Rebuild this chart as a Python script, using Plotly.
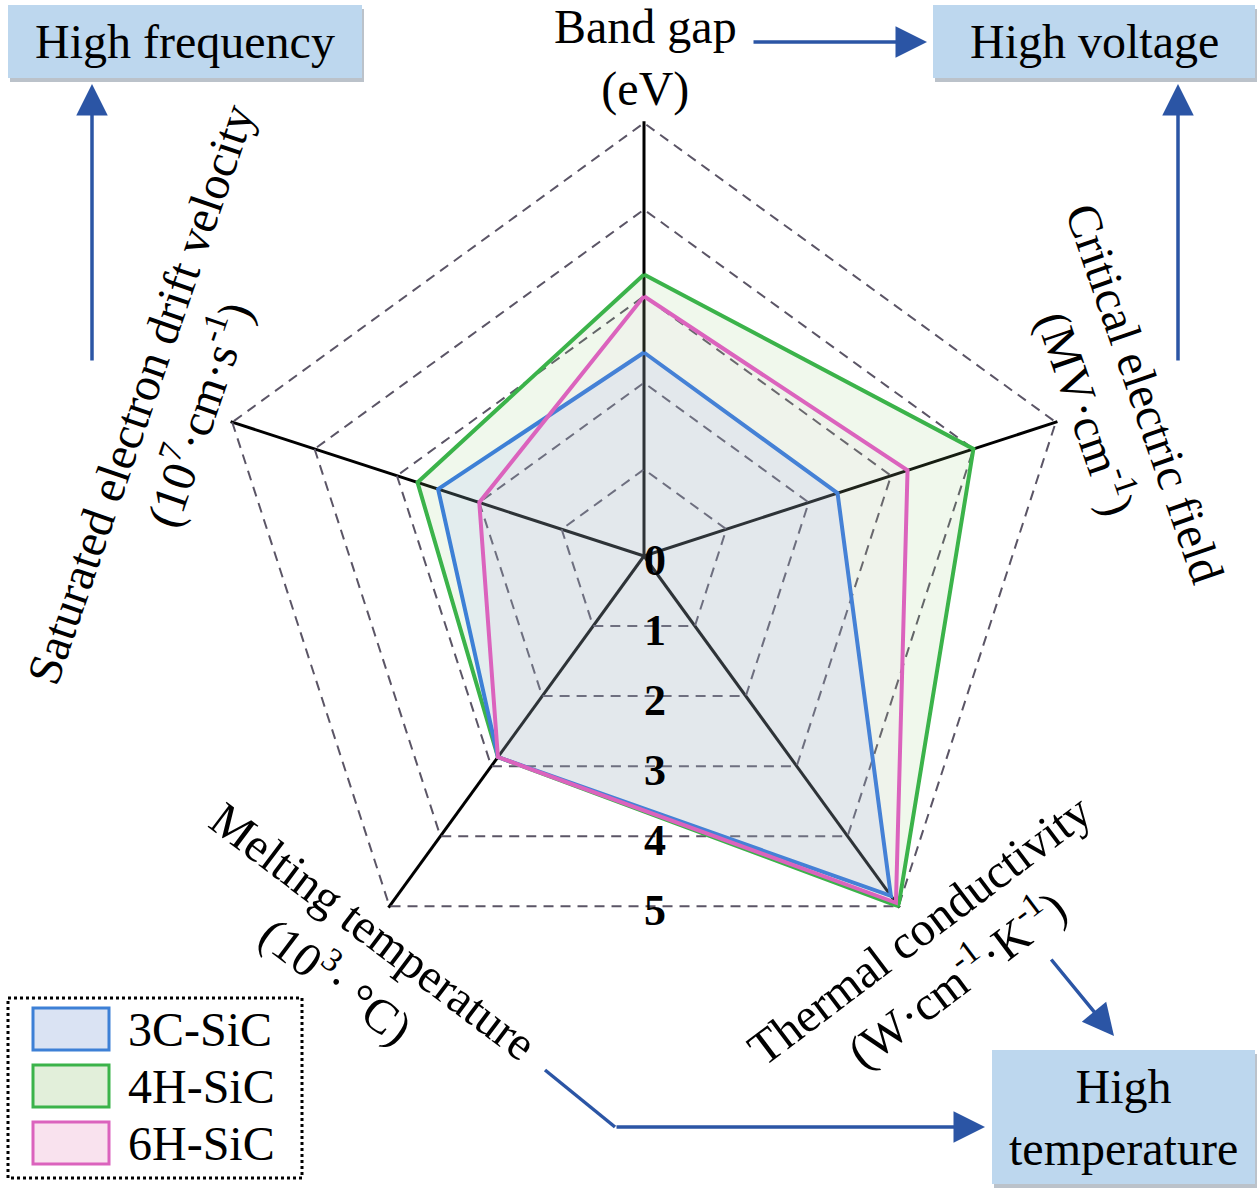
import math
import plotly.graph_objects as go

# radar axes, clockwise from the top
axes = ['Band gap', 'Critical electric field', 'Thermal conductivity',
        'Melting temperature', 'Saturated electron drift velocity']
sic_3c = [2.35, 2.35, 4.85, 2.87, 2.50]
sic_4h = [3.25, 4.00, 5.00, 2.87, 2.75]
sic_6h = [3.00, 3.20, 4.95, 2.87, 2.00]
ticks = [0, 1, 2, 3, 4, 5]

names = ['3C-SiC', '4H-SiC', '6H-SiC']
values = [sic_3c, sic_4h, sic_6h]
line_colors = ['#3d80d6', '#3bb34a', '#db63bd']
fill_colors = ['rgba(140,160,255,0.13)', 'rgba(150,205,120,0.14)', 'rgba(230,150,210,0.05)']
swatch_colors = ['#dae3f3', '#e2efda', '#f9e2ee']

axis_titles = ['Band gap<br>(eV)',
               'Critical electric field<br>(MV·cm<sup>-1</sup>)',
               'Thermal conductivity<br>(W·cm<sup>-1</sup>·K<sup>-1</sup>)',
               'Melting temperature<br>(10<sup>3</sup>· °C)',
               'Saturated electron drift velocity<br>(10<sup>7</sup>·cm·s<sup>-1</sup>)']
box_texts = ['High frequency', 'High voltage', 'High<br>temperature']

W, H = 1258, 1190
FONT = 'Liberation Serif'
ARROW = '#2b55a5'
BOX = '#bdd7ee'


def px(x):
    return x / W


def py(y):
    return 1 - y / H


# polar area: centre (644, 556), radius 434.7 px for r = 5.02
cx, cy, rad = 644, 556, 434.7
dom = dict(x=[px(cx - rad), px(cx + rad)], y=[py(cy + rad), py(cy - rad)])

fig = go.Figure()

# draw 4H first, then 3C, then 6H on top
for i in [1, 0, 2]:
    v = values[i]
    fig.add_trace(go.Scatterpolar(
        r=v + v[:1], theta=axes + axes[:1], mode='lines', fill='toself',
        fillcolor=fill_colors[i], line=dict(color=line_colors[i], width=4),
        name=names[i], showlegend=False, subplot='polar'))

# radial tick labels sit just under the bottom edge of each pentagon
label_drop = 0.09
fig.add_trace(go.Scatterpolar(
    r=[t * math.cos(math.radians(36)) + label_drop for t in ticks], theta=[180] * len(ticks),
    mode='text', text=[str(t) for t in ticks], textposition='middle right',
    textfont=dict(family=FONT, size=44, color='black', weight='bold'),
    showlegend=False, hoverinfo='skip', subplot='polar2'))

fig.update_layout(
    polar=dict(
        domain=dom, bgcolor='rgba(0,0,0,0)', gridshape='linear',
        radialaxis=dict(range=[0, 5.02], tickvals=ticks[1:], showticklabels=False,
                        showline=False, ticks='', gridcolor='#5b5566',
                        griddash='10px,7px', gridwidth=2),
        angularaxis=dict(direction='clockwise', rotation=90, showticklabels=False,
                         ticks='', showline=False, gridcolor='black', gridwidth=2.5),
    ),
    polar2=dict(
        domain=dom, bgcolor='rgba(0,0,0,0)',
        radialaxis=dict(range=[0, 5.02], visible=False),
        angularaxis=dict(direction='clockwise', rotation=90, visible=False),
    ),
)

# axis titles
title_pos = [(645, 58, 0), (1115, 403, 71), (938, 955, -37), (354, 956, 37), (170, 405, -71)]
for txt, (x, y, ang) in zip(axis_titles, title_pos):
    fig.add_annotation(x=px(x), y=py(y), xref='paper', yref='paper', text=txt,
                       textangle=ang, showarrow=False, xanchor='center', yanchor='middle',
                       font=dict(family=FONT, size=48, color='black'))

# blue boxes with a soft shadow
box_pos = [(8, 5, 362, 78), (933, 5, 1255, 78), (992, 1050, 1255, 1184)]
for txt, (x0, y0, x1, y1) in zip(box_texts, box_pos):
    fig.add_shape(type='rect', xref='paper', yref='paper',
                  x0=px(x0 + 2), x1=px(x1 + 2), y0=py(y0 + 4), y1=py(y1 + 4),
                  fillcolor='#9ea8b3', line_width=0, opacity=0.7)
    fig.add_shape(type='rect', xref='paper', yref='paper',
                  x0=px(x0), x1=px(x1), y0=py(y0), y1=py(y1),
                  fillcolor=BOX, line_width=0)
    fig.add_annotation(x=px((x0 + x1) / 2), y=py((y0 + y1) / 2), xref='paper', yref='paper',
                       text=txt, showarrow=False, xanchor='center', yanchor='middle',
                       font=dict(family=FONT, size=48, color='black'))

# arrows: (tail x, tail y, head x, head y)
arrows = [(752, 42, 927, 42), (1178, 362, 1178, 84), (92, 362, 92, 84),
          (1050, 958, 1114, 1036), (615, 1127, 985, 1127)]
for tx, ty, hx, hy in arrows:
    fig.add_annotation(x=px(hx), y=py(hy), xref='paper', yref='paper', text='',
                       showarrow=True, ax=tx - hx, ay=ty - hy, arrowhead=2,
                       arrowsize=1.8, arrowwidth=3.5, arrowcolor=ARROW, standoff=0)
fig.add_shape(type='line', xref='paper', yref='paper',
              x0=px(545), y0=py(1070), x1=px(615), y1=py(1127),
              line=dict(color=ARROW, width=3.5))

# legend box
fig.add_shape(type='rect', xref='paper', yref='paper',
              x0=px(8), x1=px(302), y0=py(998), y1=py(1178),
              line=dict(color='black', width=3, dash='dot'))
for k, name in enumerate(names):
    yc = 1029 + 57 * k
    fig.add_shape(type='rect', xref='paper', yref='paper',
                  x0=px(33), x1=px(109), y0=py(yc - 21), y1=py(yc + 21),
                  fillcolor=swatch_colors[k], line=dict(color=line_colors[k], width=3))
    fig.add_annotation(x=px(126), y=py(yc), xref='paper', yref='paper', text=name,
                       xanchor='left', yanchor='middle', showarrow=False,
                       font=dict(family=FONT, size=48, color='black'))

fig.update_layout(template='none', width=W, height=H,
                  margin=dict(l=0, r=0, t=0, b=0),
                  paper_bgcolor='white', plot_bgcolor='white')

fig.write_html('out.html', config={'displayModeBar': False},
               post_script="document.body.style.margin='0';")
